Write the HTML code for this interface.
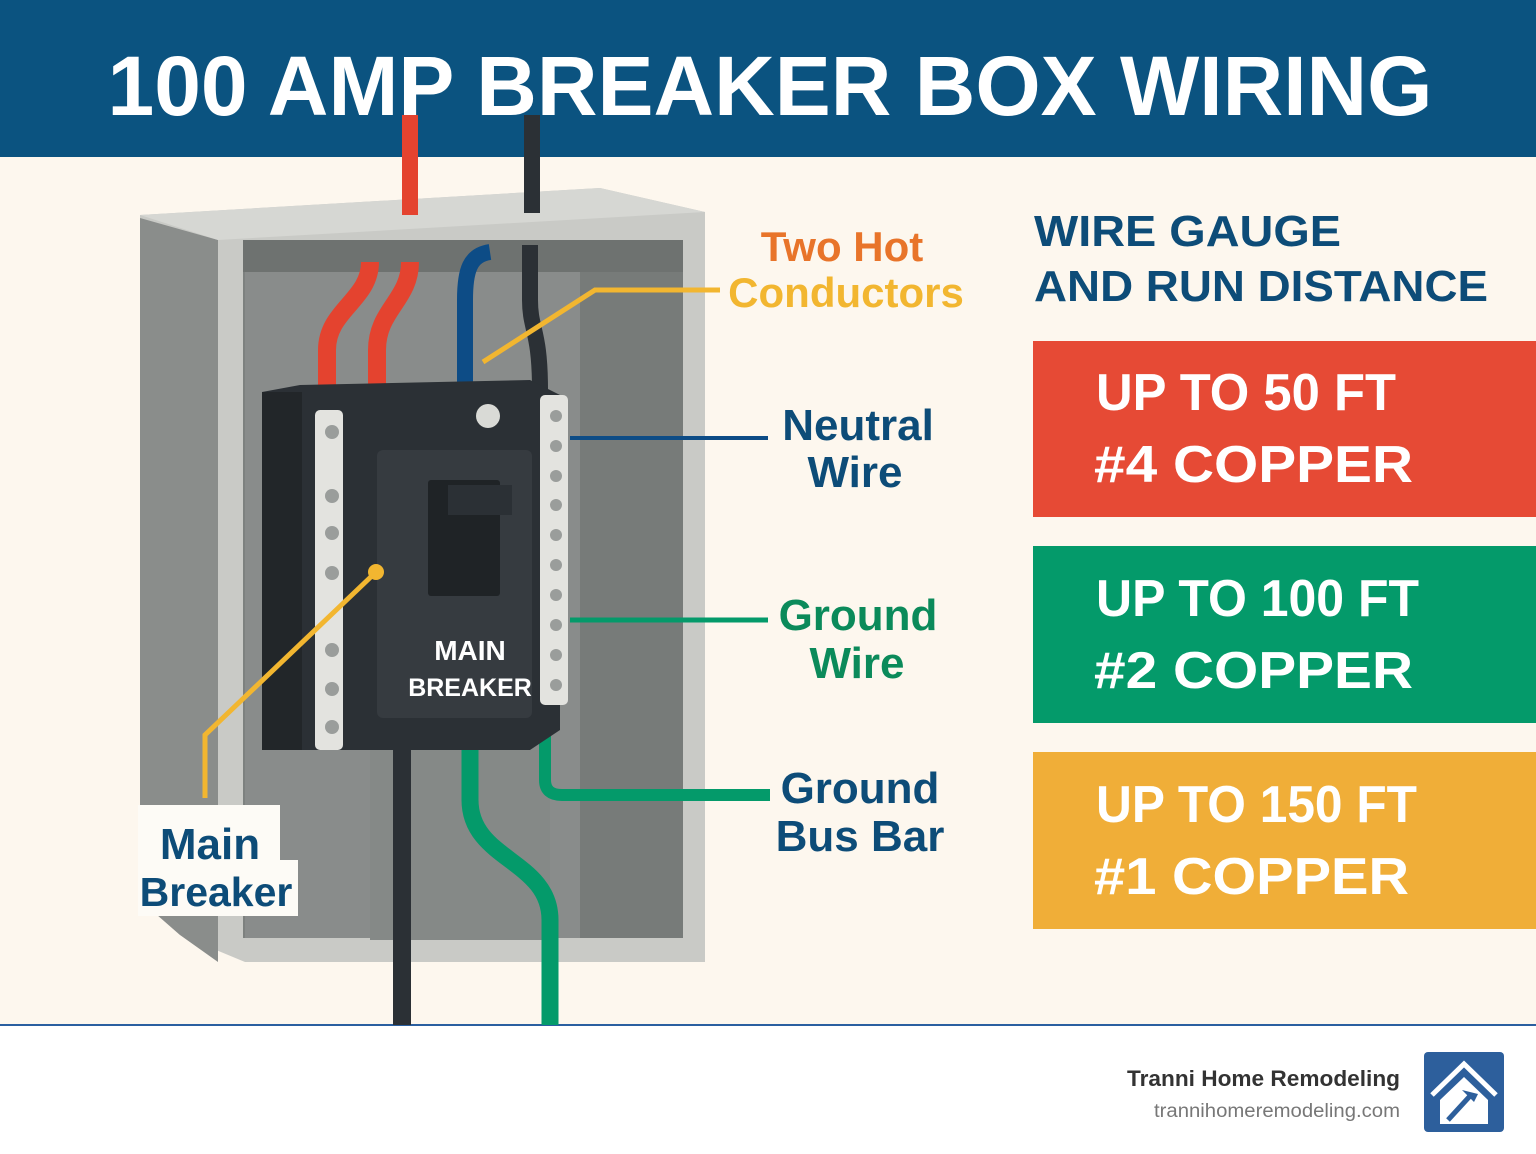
<!DOCTYPE html>
<html><head><meta charset="utf-8"><style>
html,body{margin:0;padding:0;background:#fdf7ee}
svg{display:block}
text{font-family:"Liberation Sans",sans-serif;font-weight:bold}
</style></head><body>
<svg width="1536" height="1154" viewBox="0 0 1536 1154" xmlns="http://www.w3.org/2000/svg">
<rect width="1536" height="1154" fill="#fdf7ee"/>
<rect width="1536" height="157" fill="#0b5380"/>
<rect y="1025" width="1536" height="129" fill="#ffffff"/>
<rect y="1024" width="1536" height="2" fill="#2a5fa0"/>

<!-- box -->
<polygon points="140,215 600,188 705,212 705,962 245,962 180,935 140,900" fill="#c9cac6"/>
<polygon points="140,218 218,240 218,962 180,935 140,900" fill="#8a8d8b"/>
<polygon points="140,215 600,188 705,212 218,240" fill="#d6d7d3"/>
<rect x="243" y="240" width="440" height="698" fill="#7d817f"/>
<rect x="243" y="240" width="440" height="32" fill="#6e7270"/>
<rect x="245" y="272" width="335" height="666" fill="#8e9290" opacity="0.7"/>
<rect x="580" y="272" width="103" height="666" fill="#777b79"/>
<rect x="370" y="750" width="180" height="190" fill="#858987"/>

<!-- top wires -->
<rect x="402" y="115" width="16" height="100" fill="#e4432f"/>
<rect x="524" y="115" width="16" height="98" fill="#2b3035"/>
<!-- inside wires -->
<path d="M370,262 C370,300 327,310 327,350 L327,395" stroke="#e4432f" stroke-width="18" fill="none"/>
<path d="M410,262 C410,300 377,310 377,350 L377,393" stroke="#e4432f" stroke-width="18" fill="none"/>
<path d="M490,252 C470,255 465,270 465,300 L465,388" stroke="#0d4c86" stroke-width="16" fill="none"/>
<path d="M530,245 L530,300 C530,330 540,330 540,390" stroke="#2b3035" stroke-width="16" fill="none"/>
<path d="M402,720 L402,1025" stroke="#2b3035" stroke-width="18" fill="none"/>
<path d="M470,705 L470,800 C470,860 550,860 550,920 L550,1025" stroke="#049a6a" stroke-width="17" fill="none"/>
<path d="M545,700 L545,780 Q545,795 562,795 L770,795" stroke="#049a6a" stroke-width="12" fill="none"/>

<!-- breaker body -->
<polygon points="262,392 300,385 530,380 560,395 560,730 530,750 262,750" fill="#2b3035"/>
<rect x="262" y="392" width="40" height="358" fill="#222629"/>
<rect x="377" y="450" width="155" height="268" rx="6" fill="#363b40"/>
<rect x="428" y="480" width="72" height="116" rx="3" fill="#1f2326"/>
<rect x="448" y="485" width="64" height="30" fill="#2b3035"/>
<circle cx="488" cy="416" r="12" fill="#d9dad6"/>
<text x="470" y="660" font-size="28" fill="#fff" text-anchor="middle">MAIN</text>
<text x="470" y="696" font-size="25" fill="#fff" text-anchor="middle">BREAKER</text>
<rect x="315" y="410" width="28" height="340" rx="5" fill="#e3e3df"/>
<g fill="#9a9d9b"><circle cx="332" cy="432" r="7"/><circle cx="332" cy="496" r="7"/><circle cx="332" cy="533" r="7"/><circle cx="332" cy="573" r="7"/><circle cx="332" cy="650" r="7"/><circle cx="332" cy="689" r="7"/><circle cx="332" cy="727" r="7"/></g>
<rect x="540" y="395" width="28" height="310" rx="5" fill="#e3e3df"/>
<g fill="#9a9d9b"><circle cx="556" cy="416" r="6"/><circle cx="556" cy="446" r="6"/><circle cx="556" cy="476" r="6"/><circle cx="556" cy="505" r="6"/><circle cx="556" cy="535" r="6"/><circle cx="556" cy="565" r="6"/><circle cx="556" cy="595" r="6"/><circle cx="556" cy="625" r="6"/><circle cx="556" cy="655" r="6"/><circle cx="556" cy="685" r="6"/></g>

<!-- leader lines -->
<polyline points="483,362 595,290 720,290" stroke="#f2b630" stroke-width="5" fill="none"/>
<line x1="570" y1="438" x2="768" y2="438" stroke="#0d4c86" stroke-width="4"/>
<line x1="570" y1="620" x2="768" y2="620" stroke="#049a6a" stroke-width="5"/>
<polyline points="376,572 205,735 205,798" stroke="#f2b630" stroke-width="5" fill="none"/>
<circle cx="376" cy="572" r="8" fill="#f2b630"/>

<!-- labels -->
<text x="842" y="261" font-size="42" fill="#e8742a" text-anchor="middle">Two Hot</text>
<text x="846" y="307" font-size="42" fill="#f2b630" text-anchor="middle">Conductors</text>
<text x="858" y="440" font-size="44" fill="#0d4c78" text-anchor="middle">Neutral</text>
<text x="855" y="487" font-size="44" fill="#0d4c78" text-anchor="middle">Wire</text>
<text x="858" y="630" font-size="44" fill="#0b8a5a" text-anchor="middle">Ground</text>
<text x="857" y="678" font-size="44" fill="#0b8a5a" text-anchor="middle">Wire</text>
<text x="860" y="803" font-size="44" fill="#0d4c78" text-anchor="middle">Ground</text>
<text x="860" y="851" font-size="44" fill="#0d4c78" text-anchor="middle">Bus Bar</text>
<rect x="138" y="805" width="142" height="56" fill="#fdfbf6"/>
<rect x="138" y="860" width="160" height="56" fill="#fdfbf6"/>
<text x="210" y="859" font-size="44" fill="#0d4c78" text-anchor="middle">Main</text>
<text x="216" y="906" font-size="41" fill="#0d4c78" text-anchor="middle">Breaker</text>

<!-- title -->
<text x="770" y="115" font-size="84" fill="#fff" text-anchor="middle" textLength="1325" lengthAdjust="spacingAndGlyphs">100 AMP BREAKER BOX WIRING</text>

<!-- right panel -->
<text x="1034" y="246" font-size="44" fill="#0d4c78" textLength="307" lengthAdjust="spacingAndGlyphs">WIRE GAUGE</text>
<text x="1034" y="301" font-size="44" fill="#0d4c78" textLength="454" lengthAdjust="spacingAndGlyphs">AND RUN DISTANCE</text>
<rect x="1033" y="341" width="503" height="176" fill="#e64a35"/>
<rect x="1033" y="546" width="503" height="177" fill="#049a6a"/>
<rect x="1033" y="752" width="503" height="177" fill="#f0ae38"/>
<g fill="#fff" font-size="52">
<text x="1096" y="410" textLength="300" lengthAdjust="spacingAndGlyphs">UP TO 50 FT</text>
<text x="1094" y="482" textLength="319" lengthAdjust="spacingAndGlyphs">#4 COPPER</text>
<text x="1096" y="616" textLength="323" lengthAdjust="spacingAndGlyphs">UP TO 100 FT</text>
<text x="1094" y="688" textLength="319" lengthAdjust="spacingAndGlyphs">#2 COPPER</text>
<text x="1096" y="822" textLength="321" lengthAdjust="spacingAndGlyphs">UP TO 150 FT</text>
<text x="1094" y="894" textLength="315" lengthAdjust="spacingAndGlyphs">#1 COPPER</text>
</g>

<!-- footer -->
<text x="1400" y="1086" font-size="22" fill="#333" text-anchor="end" textLength="273" lengthAdjust="spacingAndGlyphs">Tranni Home Remodeling</text>
<text x="1400" y="1117" font-size="19" fill="#777" style="font-weight:normal" text-anchor="end" textLength="246" lengthAdjust="spacingAndGlyphs">trannihomeremodeling.com</text>
<rect x="1424" y="1052" width="80" height="80" rx="4" fill="#2d5f9c"/>
<polyline points="1432,1095 1464,1064 1496,1095" stroke="#fff" stroke-width="5" fill="none"/>
<polygon points="1440,1100 1464,1077 1488,1100 1488,1124 1440,1124" fill="#fff"/>
<path d="M1448,1120 L1470,1096" stroke="#2d5f9c" stroke-width="5"/>
<path d="M1462,1090 L1478,1094 L1474,1102 Z" fill="#2d5f9c"/>
</svg>
</body></html>
